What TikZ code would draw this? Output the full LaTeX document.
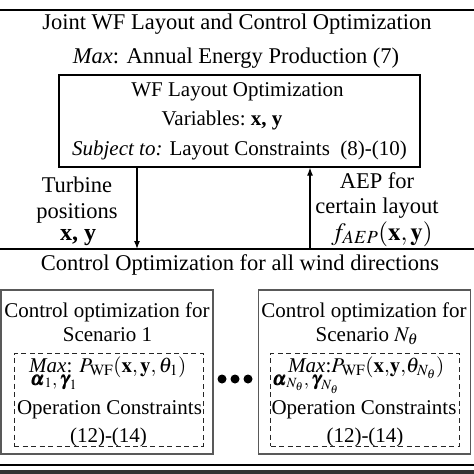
\documentclass[tikz,border=0pt]{standalone}
\usepackage{mathptmx}
\usepackage{bm}
\usepackage{fontspec}
\setmainfont{Liberation Serif}
\usetikzlibrary{positioning,arrows.meta}

\begin{document}
\begin{tikzpicture}[x=1pt,y=-1pt,
	font=\fontsize{22.5}{26}\selectfont,
	txt/.style={anchor=base,inner sep=0pt},
	boxtxt/.style={txt,font=\fontsize{21}{24}\selectfont},
	mainbox/.style={draw,line width=1.2pt,inner sep=0pt},
	scenbox/.style={draw=black!65,line width=1.2pt,minimum width=212pt,minimum height=164pt,inner sep=0pt},
	probbox/.style={draw=black!85,dash pattern=on 5pt off 3.5pt,line width=1pt,minimum width=189pt,minimum height=93pt,inner sep=0pt},
	subtxt/.style={anchor=base west,inner sep=0pt,font=\fontsize{19}{22}\selectfont},
	flow/.style={line width=1.2pt,-{Latex[length=8pt,width=6pt]}}
	]
	\useasboundingbox (0,0) rectangle (474,474);
	
	\draw[line width=2pt] (0,10) -- (474,10);
	\node[txt] (joint) at (237,29) {Joint WF Layout and Control Optimization};
	\node[txt] (aep) at (236,63) {\textit{Max}: Annual Energy Production (7)};
	
	\node[mainbox,minimum width=361pt,minimum height=92pt] (layout) at (239.5,121) {};
	\node[boxtxt] (lotitle) at (237.5,96) {WF Layout Optimization};
	\node[boxtxt] (lovars) at (222,125) {Variables:\ \textbf{x, y}};
	\node[boxtxt] (locons) at (239.5,155) {\textit{Subject to:} Layout Constraints\ \ (8)-(10)};
	
	\coordinate (ml) at (0,249);
	\coordinate (mr) at (474,249);
	\draw[line width=1.2pt] (ml) -- (mr);
	\coordinate (down) at (137,249);
	\coordinate (up) at (310,249);
	\draw[flow] (layout.south -| down) -- (down);
	\draw[flow] (up) -- (up |- layout.south);
	
	\node[txt] (tb1) at (77,192) {Turbine};
	\node[txt] (tb2) at (77,218) {positions};
	\node[txt,font=\fontsize{24}{26}\selectfont] (tb3) at (78,240) {\textbf{x, y}};
	\node[txt] (fb1) at (377,188) {AEP for};
	\node[txt] (fb2) at (377,213) {certain layout};
	\node[txt,font=\fontsize{25}{28}\selectfont] (fb3) at (382,240) {$f_{AEP}(\mathbf{x},\mathbf{y})$};
	
	\node[txt] (ctrl) at (240,270) {Control Optimization for all wind directions};
	
	\node[scenbox] (scen1) at (107,372) {};
	\node[scenbox,right=44pt of scen1] (scenN) {};
	\node[boxtxt] (s1a) at (107,317) {Control optimization for};
	\node[boxtxt] (s1b) at (107.5,341) {Scenario 1};
	\node[boxtxt] (sNa) at (364,317) {Control optimization for};
	\node[boxtxt] (sNb) at (367,341) {Scenario $N_\theta$};
	
	\node[probbox] (prob1) at (108.5,399.5) {};
	\node[probbox] (probN) at (365,399.5) {};
	
	\node[boxtxt,anchor=base west] (max1) at (29,372) {\textit{Max}: $P_{\mathrm{WF}}(\mathbf{x},\mathbf{y},\theta_1)$};
	\node[subtxt] (var1) at (30,385) {$\bm{\alpha}_1,\bm{\gamma}_1$};
	\node[boxtxt] (op1) at (109.5,414) {Operation Constraints};
	\node[boxtxt] (eq1) at (108.5,442) {(12)-(14)};
	
	\node[boxtxt,anchor=base west] (maxN) at (288,372) {\textit{Max}:$P_{\mathrm{WF}}(\mathbf{x}{,}\mathbf{y}{,}\theta_{N_\theta})$};
	\node[subtxt] (varN) at (272,385) {$\bm{\alpha}_{N_\theta},\bm{\gamma}_{N_\theta}$};
	\node[boxtxt] (opN) at (364,414) {Operation Constraints};
	\node[boxtxt] (eqN) at (365,442) {(12)-(14)};
	
	\foreach \x in {222,235,248}
		\fill (\x,379) circle (4.5pt);
	
	\draw[line width=1.2pt] (0,465) -- (474,465);
	\fill[black!80] (0,470) rectangle (474,474);
\end{tikzpicture}
\end{document}
